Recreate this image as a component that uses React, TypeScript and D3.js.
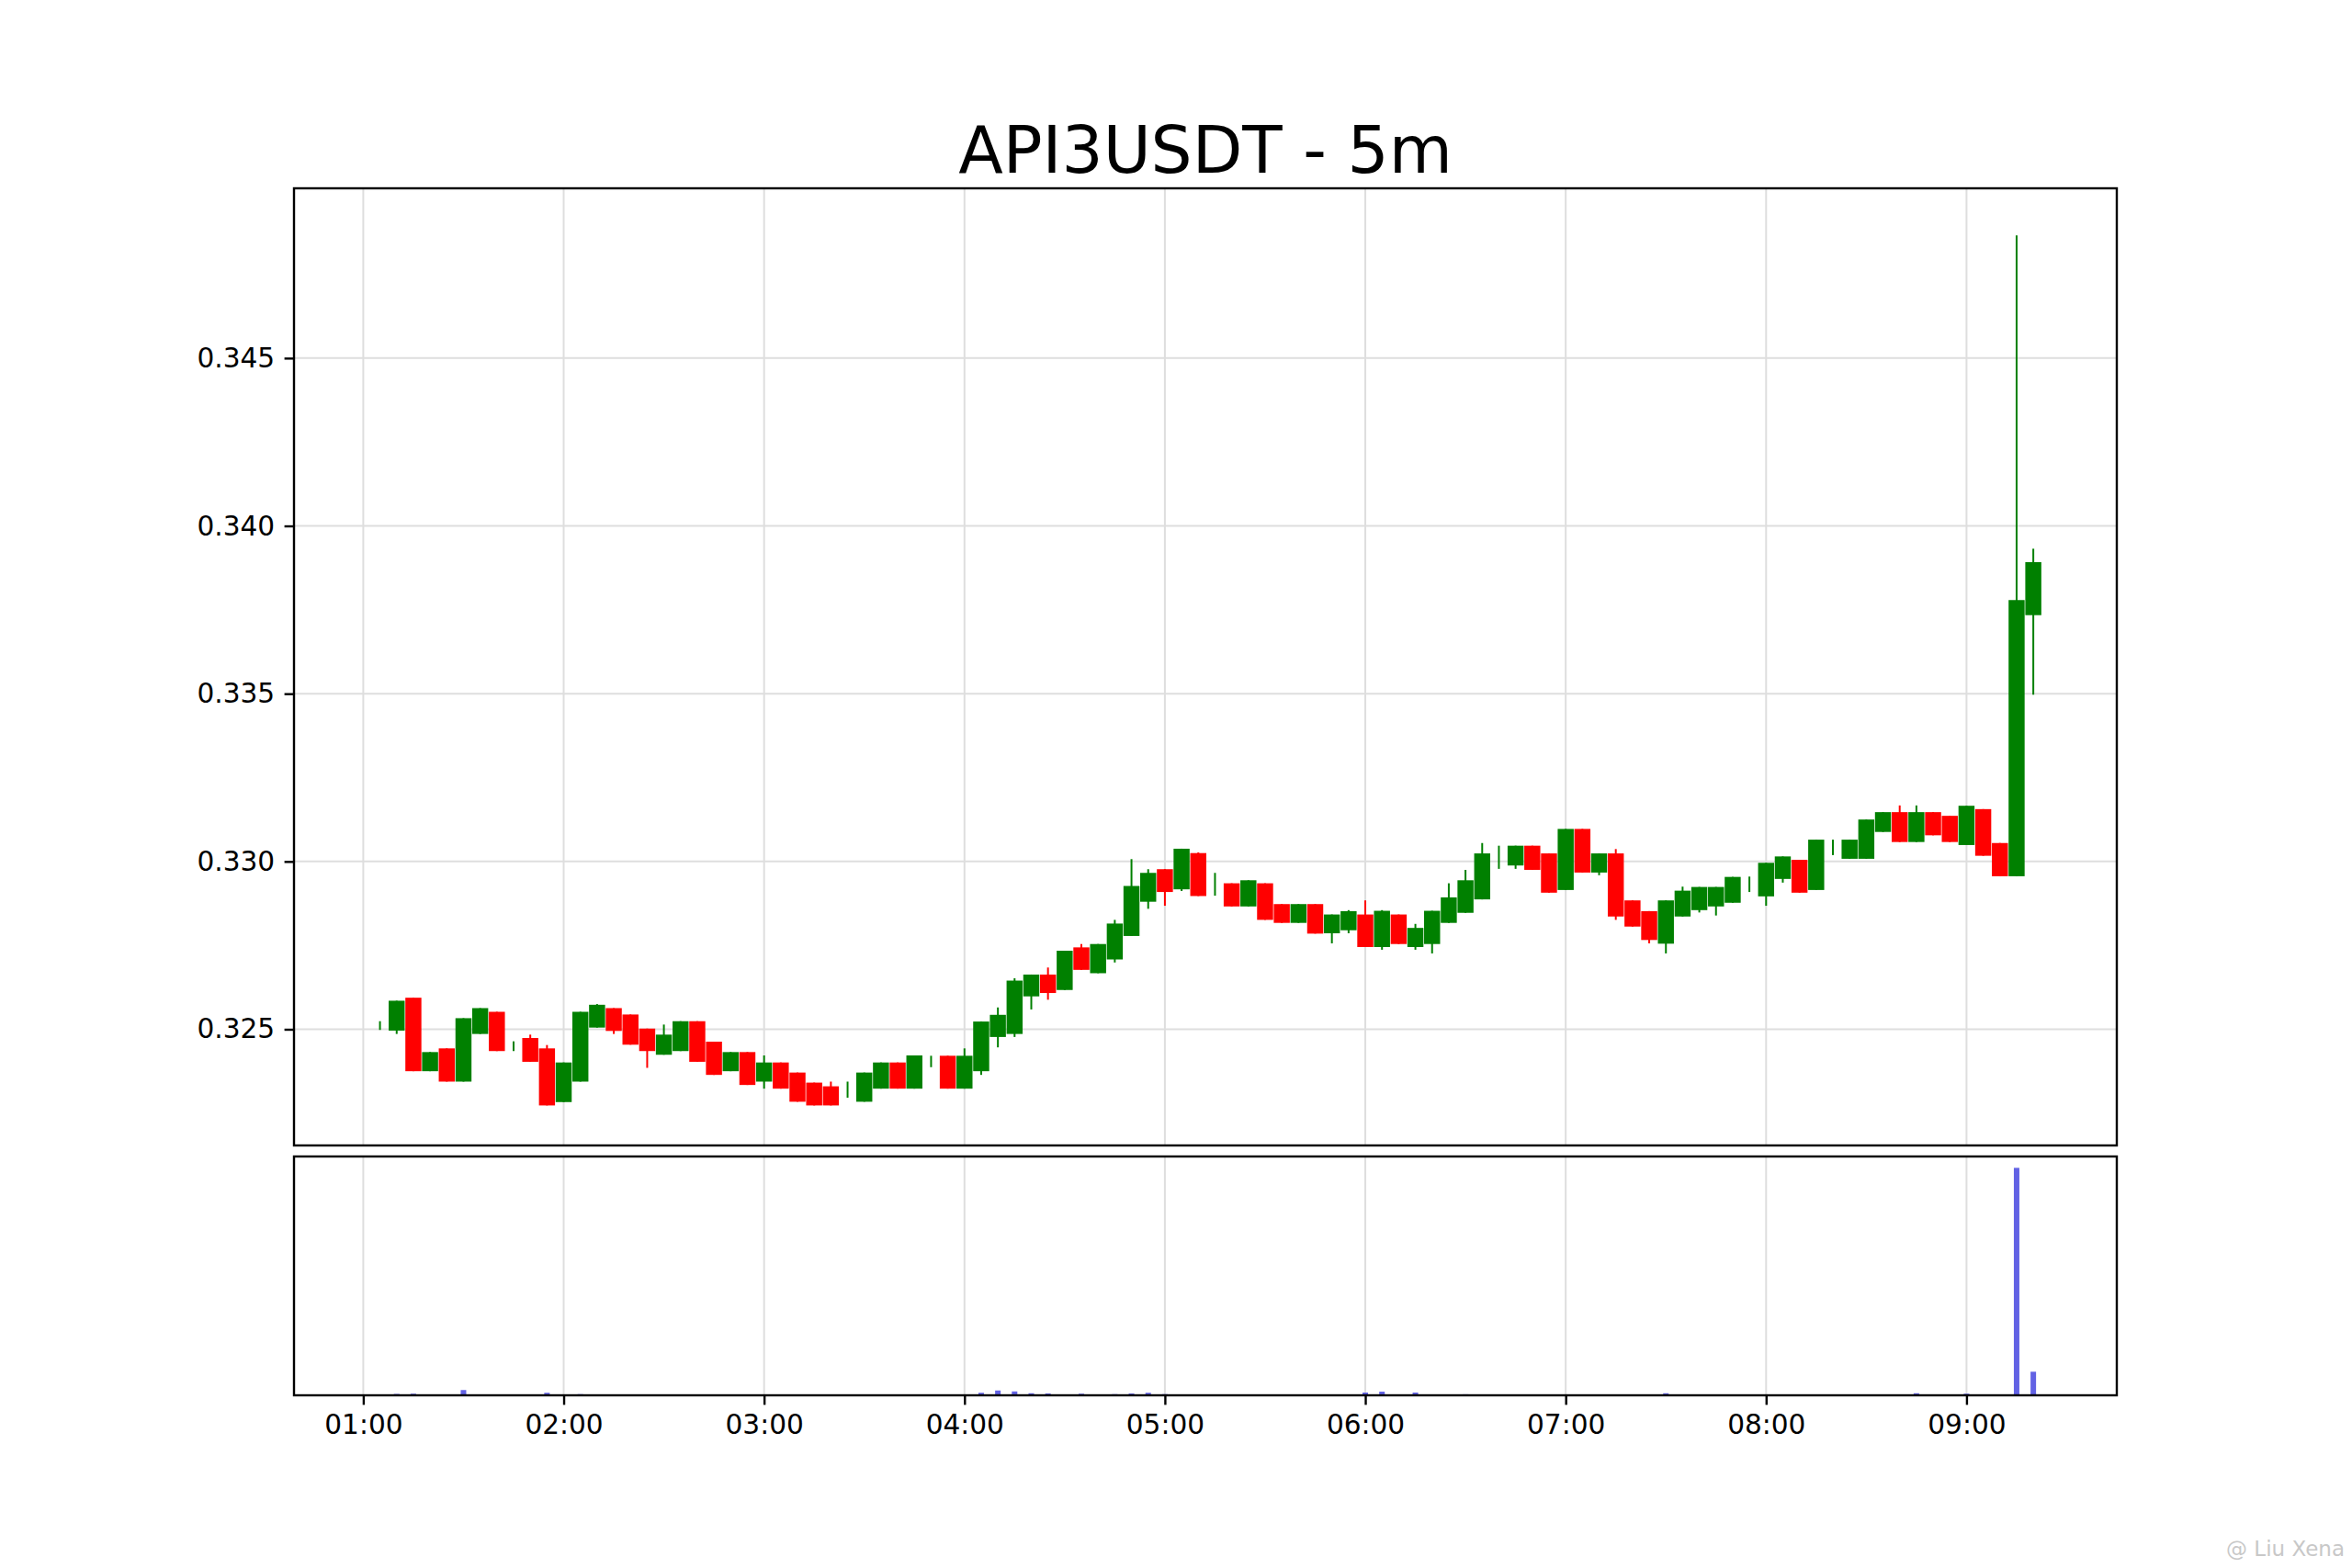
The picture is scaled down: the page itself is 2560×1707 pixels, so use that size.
import { useEffect, useRef } from 'react';
import * as d3 from 'd3';

const WIDTH = 2560;
const HEIGHT = 1707;

const title = 'API3USDT - 5m';
const watermark = '@ Liu Xena';

// first candle 01:05, one candle every 5 minutes
const startTime = Date.UTC(2023, 4, 20, 1, 5);
const intervalMs = 5 * 60 * 1000;

const opens = [
  0.3251, 0.32496, 0.32594, 0.32375, 0.32443, 0.32344, 0.32486, 0.32552, 0.3245, 0.32474,
  0.32443, 0.32283, 0.32344, 0.32505, 0.32563, 0.32544, 0.32502, 0.32424, 0.32435, 0.32524,
  0.32463, 0.32375, 0.32432, 0.32344, 0.32401, 0.32371, 0.32341, 0.3233, 0.3232, 0.32284,
  0.32323, 0.32401, 0.32323, 0.324, 0.32421, 0.32323, 0.32375, 0.32477, 0.32486, 0.32598,
  0.32663, 0.32617, 0.32744, 0.32667, 0.32708, 0.32778, 0.3288, 0.32977, 0.32917, 0.33025,
  0.3293, 0.32935, 0.32866, 0.32935, 0.32873, 0.32817, 0.32873, 0.32786, 0.32795, 0.32842,
  0.32745, 0.32842, 0.32745, 0.32754, 0.32817, 0.32847, 0.32887, 0.3301, 0.32988, 0.33047,
  0.33024, 0.32915, 0.33097, 0.32967, 0.33024, 0.32884, 0.32852, 0.32755, 0.32836, 0.32855,
  0.32866, 0.32877, 0.3293, 0.32896, 0.32948, 0.33005, 0.32915, 0.3304, 0.33008, 0.33008,
  0.33088, 0.33147, 0.33058, 0.33147, 0.33136, 0.33049, 0.33156, 0.33055, 0.32956, 0.33734,
];

const highs = [
  0.32524, 0.32585, 0.32594, 0.32432, 0.32443, 0.32533, 0.32563, 0.32552, 0.32464, 0.32484,
  0.32453, 0.32401, 0.32552, 0.32575, 0.32563, 0.32544, 0.32502, 0.32514, 0.32524, 0.32524,
  0.32463, 0.32432, 0.32432, 0.32422, 0.32401, 0.32371, 0.32341, 0.32344, 0.32344, 0.32371,
  0.32401, 0.32401, 0.32422, 0.32421, 0.32421, 0.32443, 0.32523, 0.32565, 0.32652, 0.32663,
  0.32684, 0.32734, 0.32754, 0.32754, 0.32826, 0.33007, 0.32977, 0.32977, 0.33038, 0.33027,
  0.32966, 0.32935, 0.32944, 0.32935, 0.32873, 0.32873, 0.32873, 0.32842, 0.32855, 0.32884,
  0.32855, 0.32842, 0.32814, 0.32853, 0.32935, 0.32975, 0.33055, 0.33047, 0.33047, 0.33047,
  0.33024, 0.33097, 0.33097, 0.33024, 0.33037, 0.32884, 0.32852, 0.32884, 0.32925, 0.32924,
  0.32924, 0.32954, 0.32955, 0.32996, 0.33015, 0.33005, 0.33065, 0.33065, 0.33065, 0.33125,
  0.33147, 0.33167, 0.33167, 0.33147, 0.33136, 0.33166, 0.33156, 0.33055, 0.34866, 0.33932,
];

const lows = [
  0.32498, 0.32486, 0.32375, 0.32375, 0.32344, 0.32344, 0.32486, 0.32435, 0.32435, 0.32403,
  0.32273, 0.32283, 0.32344, 0.32505, 0.32486, 0.32454, 0.32385, 0.32424, 0.32435, 0.32403,
  0.32364, 0.32375, 0.32334, 0.32323, 0.32323, 0.32284, 0.32273, 0.32273, 0.32296, 0.32284,
  0.32323, 0.32323, 0.32323, 0.32387, 0.32323, 0.32323, 0.32364, 0.32446, 0.32477, 0.32559,
  0.32588, 0.32617, 0.32677, 0.32667, 0.32699, 0.32778, 0.32859, 0.32868, 0.32912, 0.32897,
  0.32898, 0.32866, 0.32866, 0.32826, 0.32817, 0.32817, 0.32785, 0.32756, 0.32786, 0.32745,
  0.32737, 0.32754, 0.32737, 0.32726, 0.32817, 0.32847, 0.32887, 0.32978, 0.32978, 0.32975,
  0.32907, 0.32915, 0.32967, 0.32959, 0.32826, 0.32806, 0.32756, 0.32726, 0.32836, 0.32848,
  0.32839, 0.32877, 0.32909, 0.32868, 0.32937, 0.32907, 0.32915, 0.33019, 0.33008, 0.33008,
  0.33088, 0.33058, 0.33058, 0.33078, 0.33058, 0.33049, 0.33017, 0.32956, 0.32956, 0.33497,
];

const closes = [
  0.3251, 0.32585, 0.32375, 0.32432, 0.32344, 0.32533, 0.32563, 0.32435, 0.3245, 0.32403,
  0.32273, 0.32401, 0.32552, 0.32573, 0.32495, 0.32454, 0.32435, 0.32484, 0.32524, 0.32403,
  0.32364, 0.32432, 0.32334, 0.32401, 0.32323, 0.32284, 0.32273, 0.32273, 0.3232, 0.32371,
  0.32401, 0.32323, 0.32422, 0.324, 0.32323, 0.32421, 0.32523, 0.32543, 0.32645, 0.32663,
  0.32608, 0.32734, 0.32677, 0.32754, 0.32815, 0.32927, 0.32966, 0.32909, 0.33038, 0.32897,
  0.3293, 0.32866, 0.32944, 0.32826, 0.32817, 0.32873, 0.32785, 0.32842, 0.32852, 0.32745,
  0.32853, 0.32754, 0.32802, 0.32853, 0.32893, 0.32944, 0.33024, 0.3301, 0.33047, 0.32975,
  0.32907, 0.33097, 0.32967, 0.33024, 0.32836, 0.32806, 0.32766, 0.32884, 0.32913, 0.32924,
  0.32924, 0.32954, 0.3293, 0.32996, 0.33015, 0.32907, 0.33065, 0.3304, 0.33065, 0.33125,
  0.33147, 0.33058, 0.33147, 0.33078, 0.33058, 0.33166, 0.33017, 0.32956, 0.33779, 0.33892,
];

const volumes = [
  800, 3000, 3500, 800, 600, 11500, 900, 700, 500, 900,
  5500, 1500, 2500, 700, 600, 500, 600, 500, 400, 500,
  400, 500, 600, 2000, 500, 400, 600, 1800, 400, 1800,
  600, 500, 700, 400, 800, 1000, 5500, 10500, 8500, 4500,
  4000, 1500, 3500, 1200, 2500, 4000, 5500, 2500, 1200, 2000,
  1800, 600, 500, 700, 400, 500, 600, 500, 700, 6000,
  8000, 1500, 6000, 1200, 2000, 2200, 2000, 1800, 600, 500,
  400, 500, 600, 500, 1800, 600, 500, 4500, 2000, 700,
  600, 500, 400, 600, 700, 500, 1500, 400, 600, 500,
  1500, 600, 4500, 700, 600, 3500, 1500, 800, 496000, 51400,
];

const priceTicks = [0.325, 0.33, 0.335, 0.34, 0.345];
const hourTicks = ['01:00', '02:00', '03:00', '04:00', '05:00', '06:00', '07:00', '08:00', '09:00'];

const UP = '#008000';
const DOWN = '#ff0000';
const VOLUME = '#6262e4';
const GRID = '#dedede';
const FONT = '"DejaVu Sans", sans-serif';

export default function App() {
  const svgRef = useRef<SVGSVGElement>(null);

  useEffect(() => {
    if (!svgRef.current) return;

    const main = { left: 320, right: 2304, top: 205, bottom: 1247 };
    const vol = { top: 1259, bottom: 1519 };
    const tickLen = 10.4;
    const lineW = 2.4;

    const svg = d3.select(svgRef.current);
    svg.selectAll('*').remove();

    svg.append('rect').attr('width', WIDTH).attr('height', HEIGHT).attr('fill', '#ffffff');

    const times = opens.map((_, i) => new Date(startTime + i * intervalMs));
    const day = new Date(startTime);
    const hourDates = hourTicks.map((s) => {
      const [h, m] = s.split(':').map(Number);
      return new Date(Date.UTC(day.getUTCFullYear(), day.getUTCMonth(), day.getUTCDate(), h, m));
    });

    // margins around the data, roughly matplotlib's auto limits
    const t0 = +times[0];
    const t1 = +times[times.length - 1];
    const span = t1 - t0;
    const xScale = d3
      .scaleUtc()
      .domain([new Date(t0 - span * 0.052), new Date(t1 + span * 0.0505)])
      .range([main.left, main.right]);

    const lo = d3.min(lows)!;
    const hi = d3.max(highs)!;
    const range = hi - lo;
    const yScale = d3
      .scaleLinear()
      .domain([lo - range * 0.046, hi + range * 0.054])
      .range([main.bottom, main.top]);

    const vScale = d3
      .scaleLinear()
      .domain([0, d3.max(volumes)! * 1.05])
      .range([vol.bottom, vol.top]);

    const step = xScale(times[1]) - xScale(times[0]);
    const bodyW = step * 0.96;
    const volW = step * 0.33;

    // grid
    const grid = svg.append('g').attr('stroke', GRID).attr('stroke-width', 2);
    hourDates.forEach((d) => {
      grid.append('line')
        .attr('x1', xScale(d)).attr('x2', xScale(d))
        .attr('y1', main.top).attr('y2', main.bottom);
      grid.append('line')
        .attr('x1', xScale(d)).attr('x2', xScale(d))
        .attr('y1', vol.top).attr('y2', vol.bottom);
    });
    priceTicks.forEach((p) => {
      grid.append('line')
        .attr('x1', main.left).attr('x2', main.right)
        .attr('y1', yScale(p)).attr('y2', yScale(p));
    });

    // candles
    const candles = svg.append('g');
    times.forEach((t, i) => {
      const o = opens[i];
      const c = closes[i];
      const color = c >= o ? UP : DOWN;
      const x = xScale(t);
      candles.append('line')
        .attr('x1', x).attr('x2', x)
        .attr('y1', yScale(highs[i])).attr('y2', yScale(lows[i]))
        .attr('stroke', color)
        .attr('stroke-width', 2);
      const top = yScale(Math.max(o, c));
      const h = Math.abs(yScale(o) - yScale(c));
      if (h > 0) {
        candles.append('rect')
          .attr('x', x - bodyW / 2)
          .attr('y', top)
          .attr('width', bodyW)
          .attr('height', h)
          .attr('fill', color);
      }
    });

    // volume
    svg.append('g')
      .selectAll('rect')
      .data(volumes)
      .enter()
      .append('rect')
      .attr('x', (_, i) => xScale(times[i]) - volW / 2)
      .attr('y', (v) => vScale(v))
      .attr('width', volW)
      .attr('height', (v) => vol.bottom - vScale(v))
      .attr('fill', VOLUME);

    // y axis
    const yAxis = svg.append('g')
      .attr('transform', `translate(${main.left},0)`)
      .call(
        d3.axisLeft(yScale)
          .tickValues(priceTicks)
          .tickFormat(d3.format('.3f'))
          .tickSize(tickLen)
          .tickPadding(tickLen)
      );
    yAxis.select('.domain').remove();
    yAxis.selectAll('line').attr('stroke', '#000').attr('stroke-width', lineW);
    yAxis.selectAll('text')
      .attr('font-size', 29.6)
      .attr('font-family', FONT)
      .attr('fill', '#000');

    // x axis under the volume panel
    const xAxis = svg.append('g')
      .attr('transform', `translate(0,${vol.bottom})`)
      .call(
        d3.axisBottom(xScale)
          .tickValues(hourDates)
          .tickFormat((d) => d3.utcFormat('%H:%M')(d as Date))
          .tickSize(tickLen)
          .tickPadding(tickLen)
      );
    xAxis.select('.domain').remove();
    xAxis.selectAll('line').attr('stroke', '#000').attr('stroke-width', lineW);
    xAxis.selectAll('text')
      .attr('font-size', 29.6)
      .attr('font-family', FONT)
      .attr('fill', '#000');

    // spines
    svg.append('rect')
      .attr('x', main.left).attr('y', main.top)
      .attr('width', main.right - main.left).attr('height', main.bottom - main.top)
      .attr('fill', 'none').attr('stroke', '#000').attr('stroke-width', lineW);
    svg.append('rect')
      .attr('x', main.left).attr('y', vol.top)
      .attr('width', main.right - main.left).attr('height', vol.bottom - vol.top)
      .attr('fill', 'none').attr('stroke', '#000').attr('stroke-width', lineW);

    // title
    svg.append('text')
      .attr('x', (main.left + main.right) / 2)
      .attr('y', 188)
      .attr('text-anchor', 'middle')
      .attr('font-size', 71)
      .attr('font-family', FONT)
      .attr('fill', '#000')
      .text(title);

    svg.append('text')
      .attr('x', 2552)
      .attr('y', 1694)
      .attr('text-anchor', 'end')
      .attr('font-size', 23)
      .attr('font-family', FONT)
      .attr('fill', '#c8c8c8')
      .text(watermark);
  }, []);

  return (
    <svg
      ref={svgRef}
      width={WIDTH}
      height={HEIGHT}
      style={{ position: 'absolute', left: 0, top: 0, display: 'block' }}
    />
  );
}
